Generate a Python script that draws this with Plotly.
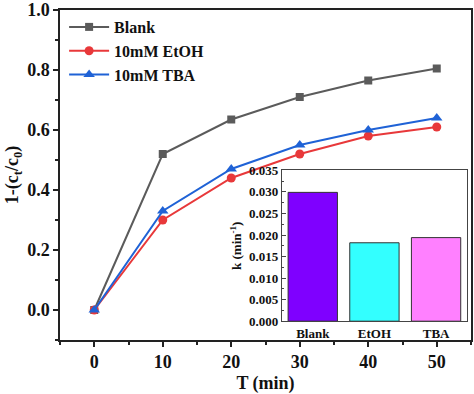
import plotly.graph_objects as go

T = [0, 10, 20, 30, 40, 50]
blank = [0.0, 0.52, 0.635, 0.71, 0.765, 0.805]
etoh = [0.0, 0.30, 0.44, 0.52, 0.58, 0.61]
tba = [0.0, 0.33, 0.47, 0.55, 0.60, 0.64]

k_labels = ["Blank", "EtOH", "TBA"]
k_values = [0.0299, 0.0182, 0.0194]
k_colors = ["#7F00FF", "#33FFFF", "#FF80FF"]

FONT = "Liberation Serif"
fig = go.Figure()
fig.add_trace(go.Scatter(x=T, y=blank, name="Blank", mode="lines+markers",
                         line=dict(color="#5b5b5b", width=2),
                         marker=dict(symbol="square", size=8, color="#5b5b5b")))
fig.add_trace(go.Scatter(x=T, y=etoh, name="10mM EtOH", mode="lines+markers",
                         line=dict(color="#e8383a", width=2),
                         marker=dict(symbol="circle", size=9, color="#e8383a")))
fig.add_trace(go.Scatter(x=T, y=tba, name="10mM TBA", mode="lines+markers",
                         line=dict(color="#1f62d6", width=2),
                         marker=dict(symbol="triangle-up", size=10, color="#1f62d6")))
fig.add_trace(go.Bar(x=k_labels, y=k_values, xaxis="x2", yaxis="y2",
                     marker=dict(color=k_colors, line=dict(color="#333333", width=1)),
                     width=0.8, showlegend=False))

axis_common = dict(showline=True, linecolor="#222", linewidth=1.5, mirror=True,
                   showgrid=False, zeroline=False, ticks="outside", ticklen=5,
                   tickwidth=1.5, tickcolor="#222", automargin=False)
fig.update_layout(
    width=474, height=394,
    margin=dict(l=60, r=3, t=7, b=54),
    paper_bgcolor="white", plot_bgcolor="white",
    font=dict(family=FONT, color="#111", size=16),
    xaxis=dict(range=[-5, 55], tickvals=[0, 10, 20, 30, 40, 50],
               minor=dict(ticks="outside", ticklen=3, dtick=5, tick0=0, tickcolor="#222"),
               tickfont=dict(family=FONT, size=18, weight="bold"),
               title=dict(text="<b>T (min)</b>", font=dict(family=FONT, size=18), standoff=6),
               **axis_common),
    yaxis=dict(range=[-0.1, 1.0], tickvals=[0, 0.2, 0.4, 0.6, 0.8, 1.0],
               tickformat=".1f",
               minor=dict(ticks="outside", ticklen=3, dtick=0.1, tick0=0, tickcolor="#222"),
               tickfont=dict(family=FONT, size=18, weight="bold"),
               title=dict(text="<b>1-(c<sub>t</sub>/c<sub>0</sub>)</b>", font=dict(family=FONT, size=18), standoff=4),
               **axis_common),
    xaxis2=dict(domain=[0.540, 0.990], anchor="y2", range=[-0.5, 2.5],
                showline=True, linecolor="#444", linewidth=1, mirror=True,
                ticks="", showgrid=False,
                tickfont=dict(family=FONT, size=13, weight="bold")),
    yaxis2=dict(domain=[0.057, 0.514], anchor="x2", range=[0, 0.035],
                dtick=0.005, tickformat=".3f",
                showline=True, linecolor="#444", linewidth=1, mirror=True,
                ticks="inside", ticklen=4, tickcolor="#444",
                minor=dict(ticks="inside", ticklen=2, dtick=0.0025, tickcolor="#444"),
                showgrid=False, zeroline=False,
                tickfont=dict(family=FONT, size=13, weight="bold"),
                title=dict(text="<b>k (min<sup>-1</sup>)</b>", font=dict(family=FONT, size=13), standoff=4)),
    legend=dict(x=0.01, y=1.0, xanchor="left", yanchor="top",
                bgcolor="rgba(0,0,0,0)", tracegroupgap=0,
                font=dict(family=FONT, size=16, weight="bold"), itemwidth=40),
)
fig.write_html("out.html", config={"displayModeBar": False},
               post_script="document.body.style.margin='0';")
